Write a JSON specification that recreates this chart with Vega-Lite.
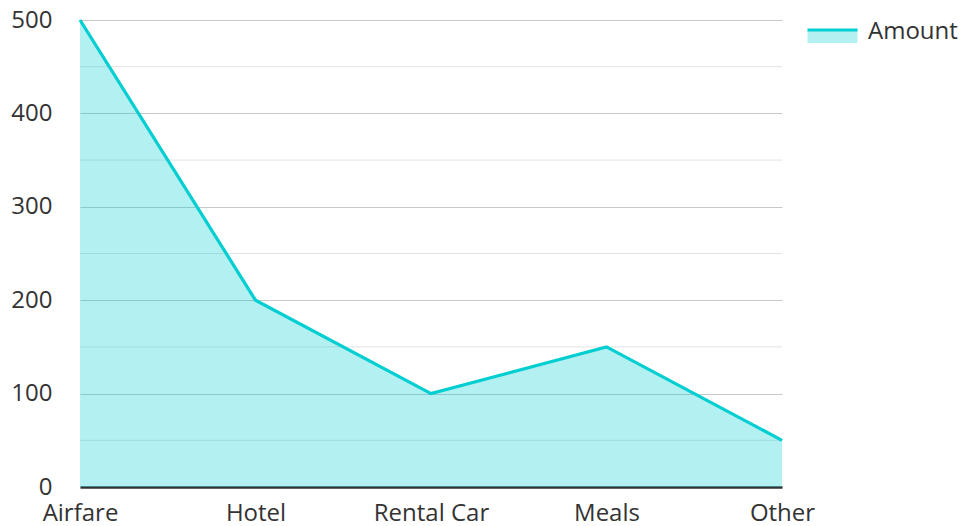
{
  "$schema": "https://vega.github.io/schema/vega-lite/v6.json",
  "width": 702,
  "height": 467,
  "autosize": {"type": "none"},
  "padding": {"left": 80, "top": 20, "right": 181, "bottom": 39},
  "config": {
    "font": "Open Sans",
    "view": {"stroke": null},
    "axis": {"labelFont": "Open Sans", "labelFontSize": 24, "labelColor": "#333333"}
  },
  "datasets": {
    "main": [
      {"category": "Airfare", "amount": 500},
      {"category": "Hotel", "amount": 200},
      {"category": "Rental Car", "amount": 100},
      {"category": "Meals", "amount": 150},
      {"category": "Other", "amount": 50}
    ],
    "minor": [{"v": 50}, {"v": 150}, {"v": 250}, {"v": 350}, {"v": 450}]
  },
  "layer": [
    {
      "data": {"name": "minor"},
      "mark": {"type": "rule", "color": "#e3e3e3", "strokeWidth": 1},
      "encoding": {
        "y": {"field": "v", "type": "quantitative", "scale": {"domain": [0, 500]}}
      }
    },
    {
      "data": {"name": "main"},
      "mark": {"type": "area", "fillOpacity": 0.3},
      "encoding": {
        "x": {"field": "category", "type": "ordinal", "sort": null, "scale": {"type": "point", "padding": 0},
          "axis": {"title": null, "ticks": false, "labelPadding": 14, "domainColor": "#333333", "domainWidth": 2.5, "labelAngle": 0}},
        "y": {"field": "amount", "type": "quantitative", "scale": {"domain": [0, 500], "nice": false},
          "axis": {"title": null, "values": [0, 100, 200, 300, 400, 500], "ticks": false, "domain": false, "labelPadding": 28, "gridColor": "#c8c8c8", "gridWidth": 1}},
        "fill": {"datum": "Amount", "type": "nominal", "scale": {"range": ["#00ced1"]},
          "legend": {
            "title": null, "orient": "none", "legendX": 726, "legendY": -15,
            "padding": 0, "labelFontSize": 24, "labelFont": "Open Sans", "labelColor": "#333333", "labelOffset": 9,
            "symbolType": "M-1,-0.06H1V0.46H-1Z", "symbolSize": 2500,
            "encode": {"symbols": {"update": {"fillOpacity": {"value": 0.3}, "stroke": {"value": "#00ced1"}, "strokeOpacity": {"value": 1}, "strokeWidth": {"value": 3}, "strokeDash": {"value": [50, 300]}, "opacity": {"value": 1}}}}
          }}
      }
    },
    {
      "data": {"name": "main"},
      "mark": {"type": "line", "color": "#00ced1", "strokeWidth": 3.2},
      "encoding": {
        "x": {"field": "category", "type": "ordinal", "sort": null},
        "y": {"field": "amount", "type": "quantitative"}
      }
    }
  ]
}
